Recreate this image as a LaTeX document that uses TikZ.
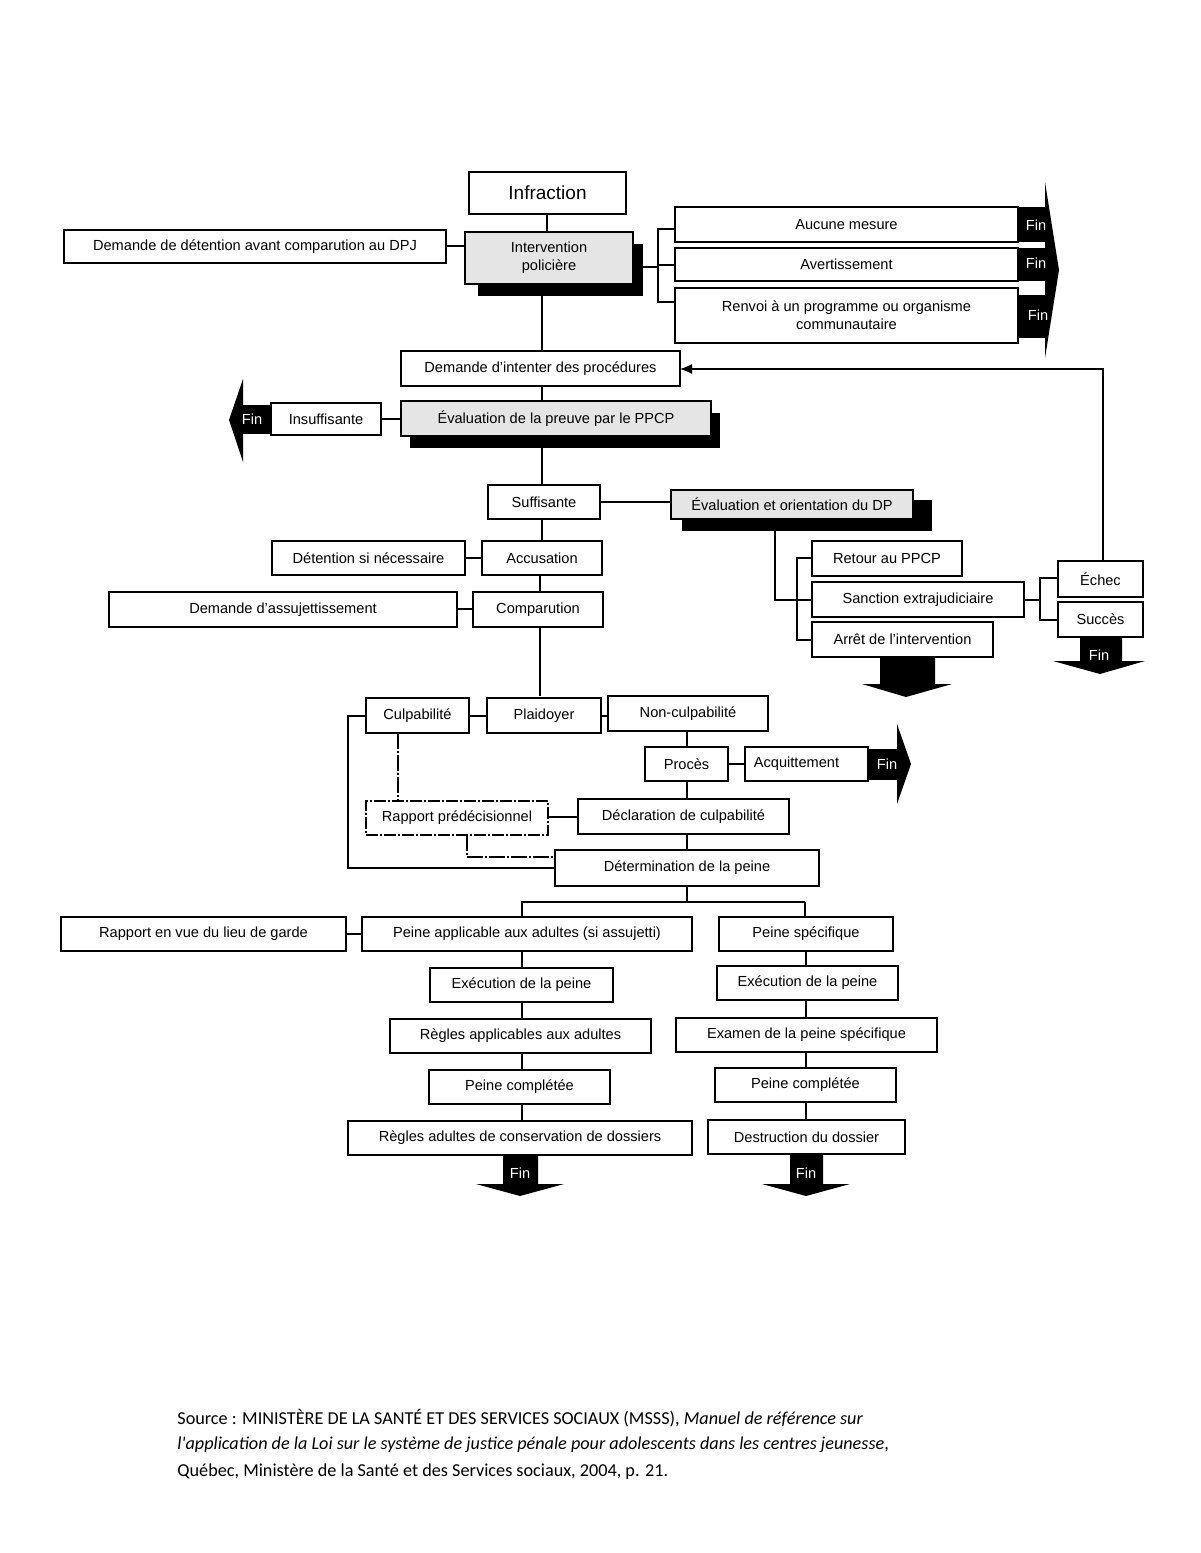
\documentclass[tikz,border=0pt]{standalone}
\usepackage{fontspec}
\setmainfont{Liberation Sans}
\newfontfamily\srcfont{Carlito}
\usetikzlibrary{arrows.meta}
\tikzset{
  box/.style={draw,line width=1pt,fill=white,inner sep=0pt,align=center,font=\fontsize{7.3}{9}\selectfont},
  graybox/.style={box,fill=gray!20},
  dbox/.style={box,dash pattern=on 6pt off 1pt on 1pt off 1pt},
  ln/.style={line width=1pt},
  fin/.style={text=white,font=\fontsize{7.3}{9}\selectfont}
}
\newcommand\bx[6][]{%
  \pgfmathsetlengthmacro\bxw{(#4-#2)*0.5pt}%
  \pgfmathsetlengthmacro\bxh{(#5-#3)*0.5pt}%
  \node[box,#1,minimum width=\bxw,minimum height=\bxh] (#6) at ({(#2+#4)/2},{(#3+#5)/2})}
\begin{document}
\begin{tikzpicture}[x=0.5pt,y=-0.5pt]
\useasboundingbox[fill=white] (0,0) rectangle (1200,1553);
% shadows
\fill (478,244) rectangle (643,296);
\fill (410,413) rectangle (720,448);
\fill (682,500) rectangle (932,531);
% Fin shapes top right
\fill (1045,182) -- (1059,270) -- (1045,358) -- cycle;
\fill (1016,207) rectangle (1048,242);
\fill (1016,248) rectangle (1048,281);
\fill (1016,295) rectangle (1048,338);
\node[fin] (f1) at (1036,225) {Fin};
\node[fin] (f2) at (1036,263) {Fin};
\node[fin] (f3) at (1038,315) {Fin};
% left Fin
\fill (243,379) -- (229,420) -- (243,462) -- cycle;
\fill (242,405) rectangle (273,434);
\node[fin] (f4) at (252,419) {Fin};
% acquittement Fin
\fill (897,724) -- (911,764) -- (897,804) -- cycle;
\fill (866,749) rectangle (899,780);
\node[fin] (f5) at (887,764) {Fin};
% down arrows
\fill (880,655) -- (935,655) -- (935,684) -- (952,684) -- (906,697) -- (862,684) -- (880,684) -- cycle;
\fill (1080,635) -- (1122,635) -- (1122,661) -- (1145,661) -- (1100,674) -- (1053,661) -- (1080,661) -- cycle;
\node[fin] (f6) at (1099,655) {Fin};
\fill (503,1153) -- (538,1153) -- (538,1184) -- (564,1184) -- (520,1196) -- (476,1184) -- (503,1184) -- cycle;
\node[fin] (f7) at (520,1173) {Fin};
\fill (790,1152) -- (823,1152) -- (823,1184) -- (850,1184) -- (806,1196) -- (762,1184) -- (790,1184) -- cycle;
\node[fin] (f8) at (806,1173) {Fin};

% connectors (drawn before boxes)
\draw[ln] (547,214) -- (547,232);
\draw[ln] (542,284) -- (542,351);
\draw[ln] (446,246) -- (465,246);
\draw[ln] (633,267) -- (658,267);
\draw[ln] (675,229) -| (658,302) -- (675,302);
\draw[ln] (658,265) -- (675,265);
\draw[line width=0.6pt,-{Latex[length=6pt,width=5pt]}] (1103,561) |- (680,369);
\draw[ln] (542,386) -- (542,401);
\draw[ln] (381,419) -- (401,419);
\draw[ln] (542,448) -- (542,541);
\draw[ln] (600,502) -- (671,502);
\draw[ln] (465,558) -- (482,558);
\draw[ln] (540,575) -- (540,696);
\draw[ln] (457,609) -- (473,609);
\draw[ln] (775,531) |- (812,600);
\draw[ln] (812,558) -| (797,640) -- (812,640);
\draw[ln] (1024,600) -- (1040,600);
\draw[ln] (1058,578) -| (1040,620) -- (1058,620);
\draw[ln] (469,716) -- (487,716);
\draw[ln] (601,716) -- (608,716);
\draw[ln] (687,731) -- (687,799);
\draw[ln] (728,764) -- (745,764);
\draw[ln] (548,817) -- (578,817);
\draw[ln] (687,834) -- (687,850);
\draw[ln,dash pattern=on 8pt off 1pt on 1pt off 1pt] (398,733) -- (398,801);
\draw[ln,dash pattern=on 8pt off 1pt on 1pt off 1pt] (467,835) |- (555,857);
\draw[ln] (366,716) -| (348,868) -- (555,868);
\draw[line width=0.6pt] (687,886) -- (687,902);
\draw[line width=0.6pt] (522,917) |- (805,902);
\draw[ln] (805,902) -- (805,917);
\draw[ln] (346,934) -- (362,934);
\draw[ln] (522,951) -- (522,1121);
\draw[ln] (806,951) -- (806,1120);

% boxes
\bx[font=\fontsize{9.5}{11}\selectfont]{469}{172}{626}{214}{inf} {Infraction};
\bx{64}{230}{446}{263}{ddet} {Demande de détention avant comparution au DPJ};
\bx[graybox]{465}{232}{633}{284}{ip} {Intervention\\policière};
\bx{675}{207}{1018}{242}{am} {Aucune mesure};
\bx{675}{248}{1018}{281}{av} {Avertissement};
\bx{675}{288}{1018}{343}{ren} {Renvoi à un programme ou organisme\\communautaire};
\bx{401}{351}{680}{386}{dip} {Demande d'intenter des procédures};
\bx[graybox]{401}{401}{711}{436}{evp} {Évaluation de la preuve par le PPCP};
\bx{271}{403}{381}{435}{ins} {Insuffisante};
\bx{488}{485}{600}{519}{suf} {Suffisante};
\bx[graybox]{671}{490}{913}{519}{evdp} {Évaluation et orientation du DP};
\bx{272}{541}{465}{575}{dsn} {Détention si nécessaire};
\bx{482}{541}{602}{575}{acc} {Accusation};
\bx{109}{592}{457}{627}{das} {Demande d'assujettissement};
\bx{473}{592}{603}{627}{comp} {Comparution};
\bx{812}{541}{962}{576}{ret} {Retour au PPCP};
\bx{812}{582}{1024}{617}{sanc} {Sanction extrajudiciaire};
\bx{812}{622}{993}{657}{arr} {Arrêt de l'intervention};
\bx{1058}{561}{1143}{597}{ech} {Échec};
\bx{1058}{602}{1143}{637}{succ} {Succès};
\bx{366}{698}{469}{733}{cul} {Culpabilité};
\bx{487}{698}{601}{733}{pla} {Plaidoyer};
\bx{608}{696}{768}{731}{ncul} {Non-culpabilité};
\bx{645}{747}{728}{781}{proc} {Procès};
\bx{745}{747}{868}{781}{acq} {Acquittement\hspace*{10pt}};
\bx[dbox]{366}{801}{548}{835}{rap} {Rapport prédécisionnel};
\bx{578}{799}{789}{834}{decl} {Déclaration de culpabilité};
\bx{555}{850}{819}{886}{det} {Détermination de la peine};
\bx{61}{917}{346}{951}{rvl} {Rapport en vue du lieu de garde};
\bx{362}{917}{692}{951}{paa} {Peine applicable aux adultes (si assujetti)};
\bx{719}{917}{893}{951}{ps} {Peine spécifique};
\bx{430}{968}{613}{1002}{exl} {Exécution de la peine};
\bx{717}{966}{898}{1000}{exr} {Exécution de la peine};
\bx{390}{1019}{651}{1053}{raa} {Règles applicables aux adultes};
\bx{676}{1018}{937}{1052}{eps} {Examen de la peine spécifique};
\bx{429}{1070}{610}{1104}{pcl} {Peine complétée};
\bx{715}{1068}{896}{1102}{pcr} {Peine complétée};
\bx{348}{1121}{692}{1155}{racd} {Règles adultes de conservation de dossiers};
\bx{708}{1120}{905}{1154}{dd} {Destruction du dossier};

% source
\begin{scope}[every node/.style={anchor=west,inner sep=0pt,font=\srcfont\fontsize{9.1}{11}\selectfont}]
\node (s1) at (177,1418) {Source : MINISTÈRE DE LA SANTÉ ET DES SERVICES SOCIAUX (MSSS), \textit{Manuel de référence sur}};
\node (s2) at (177,1445) {\textit{l'application de la Loi sur le système de justice pénale pour adolescents dans les centres jeunesse},};
\node (s3) at (177,1472) {Québec, Ministère de la Santé et des Services sociaux, 2004, p. 21.};
\end{scope}
\end{tikzpicture}
\end{document}
